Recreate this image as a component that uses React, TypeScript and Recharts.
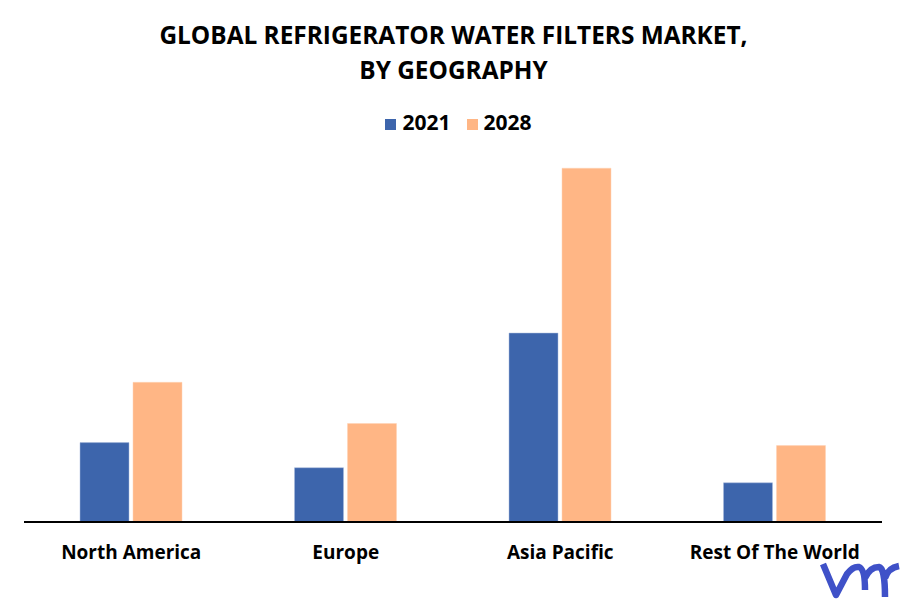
import { Bar, BarChart, Legend, XAxis, YAxis } from "recharts";

const regions = ["North America", "Europe", "Asia Pacific", "Rest Of The World"];
const values2021 = [79, 54, 188, 39];
const values2028 = [139, 98, 352, 76];

const rows = regions.map((name, i) => ({
    name,
    y2021: values2021[i],
    y2028: values2028[i],
}));

const font = "'Open Sans', sans-serif";

const App = () => {
    return (
        <div style={{position: "absolute", left: 0, top: 0, width: 905, height: 602, background: "#fff", fontFamily: font}}>
            <div style={{
                position: "absolute", left: 0, top: 17, width: 907, textAlign: "center",
                fontSize: 24.4, fontWeight: 700, lineHeight: "35px", color: "#000",
            }}>
                GLOBAL REFRIGERATOR WATER FILTERS MARKET,<br/>BY GEOGRAPHY
            </div>
            <BarChart
                width={905}
                height={602}
                data={rows}
                margin={{top: 92, right: 23, bottom: 50, left: 24}}
                barSize={49}
                barGap={4}
                style={{position: "absolute", left: 0, top: 0}}
            >
                <XAxis
                    dataKey="name"
                    height={30}
                    tickLine={false}
                    axisLine={{stroke: "#000", strokeWidth: 2}}
                    tick={{fill: "#000", fontSize: 19, fontWeight: 700, fontFamily: font}}
                    tickMargin={18}
                    interval={0}
                />
                <YAxis hide domain={[0, 400]}/>
                <Legend
                    verticalAlign="top"
                    align="center"
                    iconType="square"
                    iconSize={11}
                    wrapperStyle={{top: 108, left: 14, width: 905, fontWeight: 700, fontSize: 21, fontFamily: font}}
                    formatter={(value) => <span style={{color: "#000", marginLeft: 2, marginRight: 6}}>{value}</span>}
                />
                <Bar dataKey="y2021" name="2021" fill="#3D65AC" stroke="#A9BBDC" strokeWidth={0.5} isAnimationActive={false}/>
                <Bar dataKey="y2028" name="2028" fill="#FFB685" stroke="#FFD3B5" strokeWidth={0.5} isAnimationActive={false}/>
            </BarChart>
            {/* vm logo, bottom right */}
            <svg width={90} height={42} style={{position: "absolute", left: 815, top: 560}}>
                <path
                    d="M8 4 L21 35 L32 14 Q38 6 44 7 Q50 9 50 30 M50 18 Q55 7 64 7 Q70 8 70 37 M70 18 Q73 8 84 6"
                    fill="none"
                    stroke="#3F51C8"
                    strokeWidth={6.5}
                    strokeLinejoin="round"
                />
            </svg>
        </div>
    );
};

export default App;
